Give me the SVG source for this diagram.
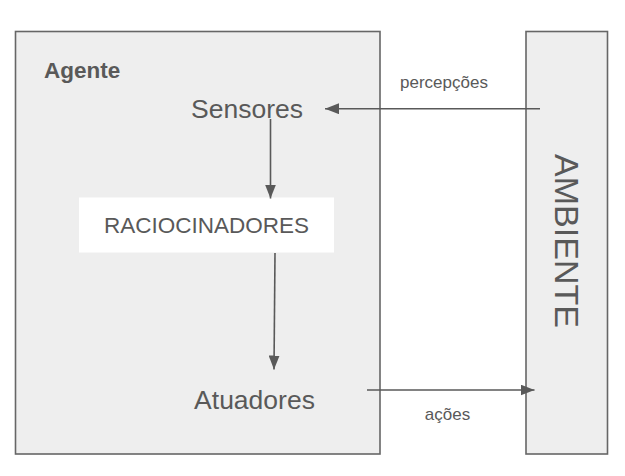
<svg xmlns="http://www.w3.org/2000/svg" width="625" height="476" viewBox="0 0 625 476">
<defs>
<style>
.box{fill:#eeeeee;stroke:#666666;stroke-width:1.6}
.t{font-family:"Liberation Sans",Arial,sans-serif;fill:#595959}
.c{stroke:#595959;stroke-width:1.6;fill:none}
</style>
<marker id="ah" viewBox="0 0 14 11" refX="14" refY="5.5" markerWidth="14" markerHeight="11" markerUnits="userSpaceOnUse" orient="auto">
<path d="M0,0 L14,5.5 L0,11 Z" fill="#595959"/>
</marker>
</defs>
<rect width="625" height="476" fill="#ffffff"/>
<g id="agente">
<rect class="box" x="15.5" y="31.5" width="364.5" height="422.5"/>
<text class="t" x="44" y="78" font-size="22.5" font-weight="bold">Agente</text>
</g>
<g id="ambiente">
<rect class="box" x="526" y="31.5" width="81.5" height="422.5"/>
<text class="t" font-size="34" text-anchor="middle" transform="translate(555,241) rotate(90)">AMBIENTE</text>
</g>
<g id="sensores">
<text class="t" x="247" y="118" font-size="26.5" text-anchor="middle">Sensores</text>
</g>
<g id="raciocinadores">
<rect x="79" y="197.5" width="255" height="55" fill="#ffffff"/>
<text class="t" x="206.5" y="232.5" font-size="22.5" text-anchor="middle">RACIOCINADORES</text>
</g>
<g id="atuadores">
<text class="t" x="254.5" y="409" font-size="26.5" text-anchor="middle">Atuadores</text>
</g>
<g id="connectors">
<line class="c" x1="540" y1="108.7" x2="325" y2="108.7" marker-end="url(#ah)"/>
<line class="c" x1="270.5" y1="119" x2="270.5" y2="198.5" marker-end="url(#ah)"/>
<line class="c" x1="275" y1="253" x2="274" y2="369.5" marker-end="url(#ah)"/>
<line class="c" x1="367" y1="390" x2="534.5" y2="390" marker-end="url(#ah)"/>
<text class="t" x="444" y="88" font-size="17" text-anchor="middle">percepções</text>
<text class="t" x="447.5" y="420" font-size="17" text-anchor="middle">ações</text>
</g>
</svg>
